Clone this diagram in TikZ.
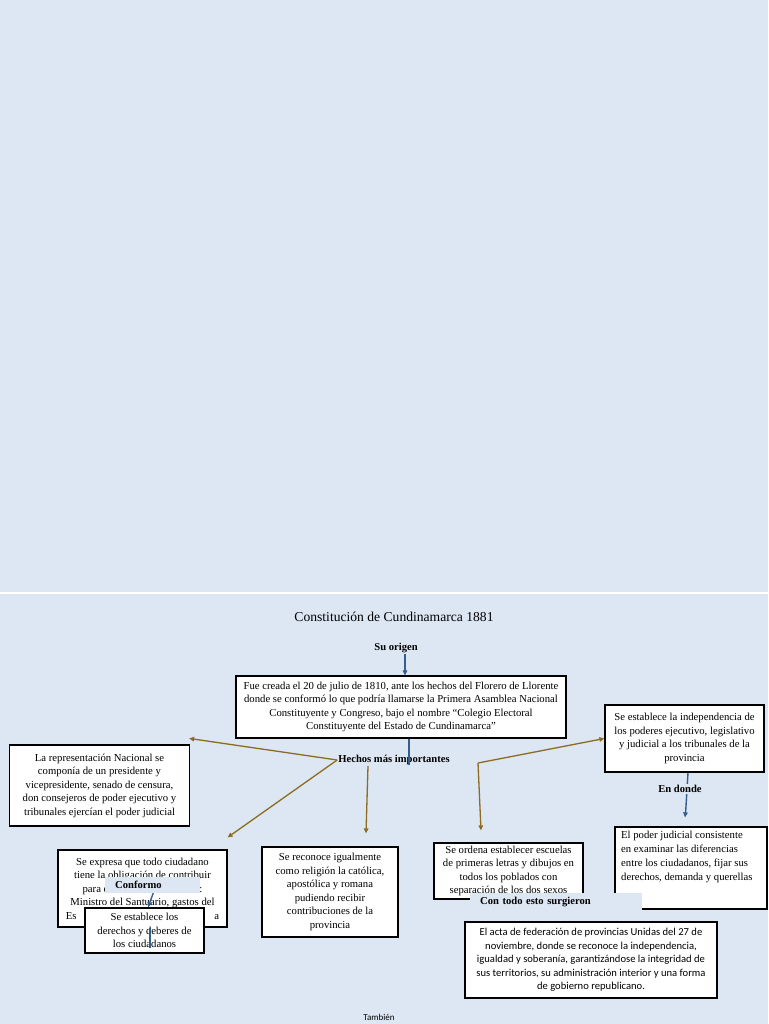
\documentclass[tikz,border=0pt]{standalone}
\usepackage{fontspec}
\setmainfont{Liberation Serif}
\newfontfamily\calib{Carlito}
\usetikzlibrary{arrows.meta,calc}
\definecolor{bg}{RGB}{220,231,243}
\definecolor{brownarr}{RGB}{140,108,32}
\definecolor{bluearr}{RGB}{52,94,142}
\begin{document}
\begin{tikzpicture}[x=1pt,y=-1pt,
  box/.style={draw=black,line width=1.2pt,fill=white,inner sep=0pt,align=center,
    font=\fontsize{10.7}{13.5}\selectfont},
  lbl/.style={font=\bfseries\fontsize{10.6}{12}\selectfont,inner sep=1pt},
  brarrow/.style={draw=brownarr,line width=1.3pt,-{Triangle[length=5pt,width=4.5pt]}},
  blarrow/.style={draw=bluearr,line width=1.4pt,-{Triangle[length=5pt,width=4.5pt]}},
  blline/.style={draw=bluearr,line width=1.4pt}]
\fill[bg] (0,0) rectangle (768,1024);
\useasboundingbox (0,0) rectangle (768,1024);
\draw[white,line width=1.5pt] (0,593) -- (768,593);

\node[font=\fontsize{13.6}{15}\selectfont,inner sep=0pt] (title) at (394,617) {Constitución de Cundinamarca 1881};
\node[lbl] (sor) at (396,648) {Su origen};

\node[box,minimum width=330,minimum height=62] (main) at (401,707)
 {Fue creada el 20 de julio de 1810, ante los hechos del Florero de Llorente\\
  donde se conformó lo que podría llamarse la Primera Asamblea Nacional\\
  Constituyente y Congreso, bajo el nombre “Colegio Electoral\\
  Constituyente del Estado de Cundinamarca”};
\draw[blarrow] ($(sor.south)+(9,0)$) -- ($(main.north)+(4,0)$);

\node[lbl] (hm) at (394,760) {Hechos más importantes};
\draw[blline] ($(main.south)+(8,0)$) -- ($(hm.south)+(15,-1)$);

\node[box,minimum width=180,minimum height=81] (lb) at (99.5,785.5)
 {La representación Nacional se\\
  componía de un presidente y\\
  vicepresidente, senado de censura,\\
  don consejeros de poder ejecutivo y\\
  tribunales ejercían el poder judicial};

\node[box,minimum width=169,minimum height=77] (se) at (142.5,888.5)
 {Se expresa que todo ciudadano\\
  tiene la obligación de contribuir\\
  para el\hspace{88pt}:\\
  Ministro del Santuario, gastos del\\
  Es\hspace{138pt}a};
\node[fill=bg,anchor=west,minimum height=16,text width=75pt,inner xsep=10pt,inner ysep=0pt,
  align=left,font=\bfseries\fontsize{10.6}{12}\selectfont] (cf) at (105,885) {Conformo};
\node[box,minimum width=119,minimum height=45] (lw) at (144.5,930.5)
 {Se establece los\\ derechos y deberes de\\ los ciudadanos};
\draw[blarrow] ($(cf.south)+(0.5,0)$) -- ($(lw.north)+(3.5,0)$);
\draw[blline] ($(lw.center)+(5.5,-2.5)$) -- ($(lw.south)+(5.5,-6)$);

\node[box,minimum width=136,minimum height=90] (sr) at (330,892)
 {Se reconoce igualmente\\
  como religión la católica,\\
  apostólica y romana\\
  pudiendo recibir\\
  contribuciones de la\\
  provincia};

\node[box,minimum width=149,minimum height=56] (so) at (508.5,871)
 {Se ordena establecer escuelas\\
  de primeras letras y dibujos en\\
  todos los poblados con\\
  separación de los dos sexos};

\node[box,minimum width=159,minimum height=67] (rt) at (684.5,738.5)
 {Se establece la independencia de\\
  los poderes ejecutivo, legislativo\\
  y judicial a los tribunales de la\\
  provincia};

\node[box,minimum width=152,minimum height=82] (pj) at (691,868) {};
\node[anchor=north west,align=left,inner sep=0pt,font=\fontsize{10.7}{13.8}\selectfont] (pjt) at (621,831)
 {El poder judicial consistente\\
  en examinar las diferencias\\
  entre los ciudadanos, fijar sus\\
  derechos, demanda y querellas};

\draw[blline] ($(rt.south)+(3.5,0)$) -- ($(pj.north)+(-5.5,-12)$);
\draw[blarrow] ($(pj.north)+(-5.5,-14)$) -- ($(pj.north)+(-6,-9)$);
\node[lbl,fill=bg] (ed) at (680,789) {En donde};

\node[fill=bg,anchor=west,minimum height=17,text width=152pt,inner xsep=10pt,inner ysep=0pt,
  align=left,font=\bfseries\fontsize{10.6}{12}\selectfont] (ct) at (470,901.5) {Con todo esto surgieron};

\coordinate (fork) at (478,763);
\draw[brarrow] (hm.west) -- ($(lb.north east)+(-1,-6)$);
\draw[brarrow] (hm.west) -- ($(se.north east)+(0,-12)$);
\draw[brarrow] ($(hm.south)+(-26,0)$) -- ($(sr.north)+(36,-13)$);
\draw[brarrow] (fork) -- ($(so.north)+(-27.5,-12)$);
\draw[brarrow] (fork) -- (rt.west);

\node[box,minimum width=252,minimum height=76,font=\calib\fontsize{10.6}{13.6}\selectfont] (fa) at (591,960)
 {El acta de federación de provincias Unidas del 27 de\\
  noviembre, donde se reconoce la independencia,\\
  igualdad y soberanía, garantizándose la integridad de\\
  sus territorios, su administración interior y una forma\\
  de gobierno republicano.};

\node[anchor=north,inner sep=0pt,font=\calib\fontsize{9}{11}\selectfont] (tb) at (379,1014) {También};
\end{tikzpicture}
\end{document}
